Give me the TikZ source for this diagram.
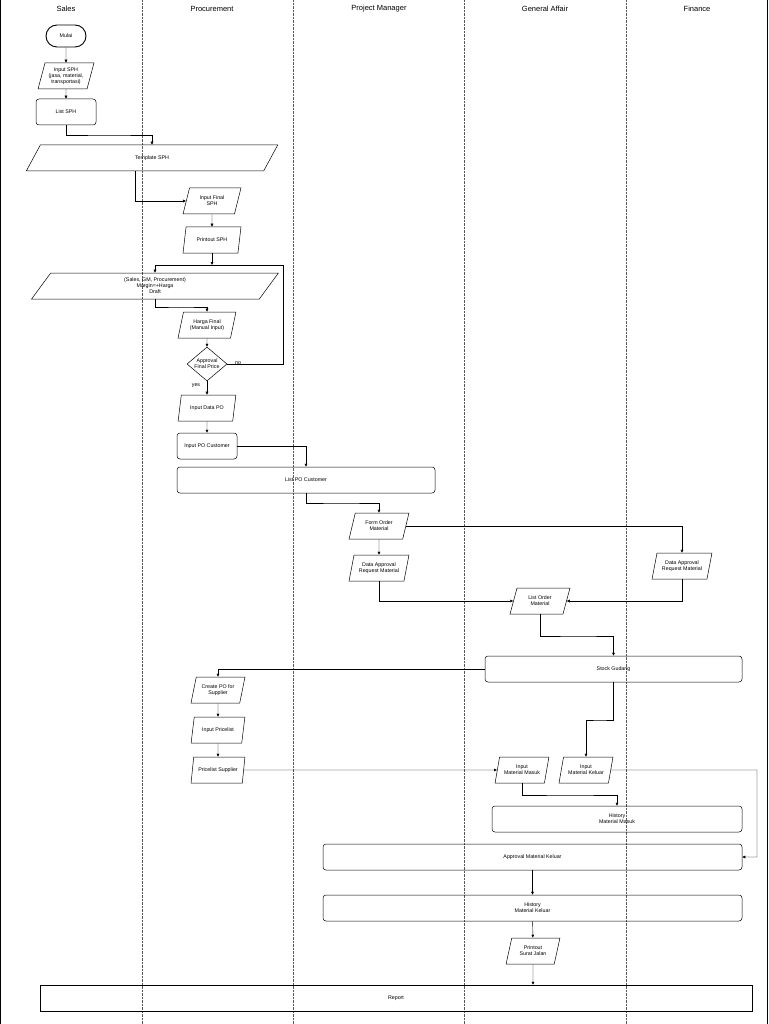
\documentclass[tikz,border=0pt]{standalone}
\usepackage{fontspec}
\setmainfont{Liberation Sans}
\usetikzlibrary{shapes.geometric,shapes.misc,arrows.meta}
\begin{document}
\begin{tikzpicture}[x=1pt,y=1pt,
 base/.style={draw,line width=0.5pt,font=\fontsize{5.3}{6}\selectfont,align=center,inner sep=1pt},
 para/.style={base,trapezium,trapezium left angle=72,trapezium right angle=108,trapezium stretches=true,minimum height=26pt},
 rbox/.style={base,rectangle,rounded corners=3pt,minimum height=26pt},
 arr/.style={-{Latex[length=3pt,width=3pt]},line width=0.45pt},
 lane/.style={densely dotted,line width=0.4pt,gray!70!black},
 title/.style={font=\fontsize{7.5}{8}\selectfont}]
\useasboundingbox (0,0) rectangle (768,-1024);
\draw[line width=1pt] (0.5,0) -- (0.5,-1024) (767.5,0)--(767.5,-1024);
\foreach \x in {142,293,464,626} \draw[lane] (\x,0) -- (\x,-1024);
\node[title] (t1) at (66,-9) {Sales};
\node[title] (t2) at (212,-9) {Procurement};
\node[title] (t3) at (379,-9) {Project Manager};
\node[title] (t4) at (545,-9) {General Affair};
\node[title] (t5) at (697,-9) {Finance};

\node[base,rounded rectangle,line width=0.9pt,minimum width=42pt,minimum height=22pt] (mulai) at (66,-36) {Mulai};
\node[para,minimum width=56pt] (isph) at (66,-76) {Input SPH\\(jasa, material,\\transportasi)};
\node[rbox,minimum width=60pt] (lsph) at (66,-112) {List SPH};
\node[para,minimum width=252pt] (tsph) at (152,-158) {Template SPH};
\node[para,minimum width=58pt] (ifs) at (212,-201) {Input Final\\SPH};
\node[para,minimum width=58pt] (psph) at (212,-240) {Printout SPH};
\node[para,minimum width=247pt] (sgm) at (155,-286) {(Sales, GM, Procurement)\\Margin=+Harga\\Draft};
\node[para,minimum width=58pt] (hf) at (207,-325) {Harga Final\\(Manual Input)};
\node[base,diamond,aspect=1.2,minimum width=40pt,minimum height=34pt,inner sep=0pt] (apf) at (207,-364) {Approval\\Final Price};
\node[para,minimum width=58pt] (idpo) at (207,-408) {Input Data PO};
\node[rbox,minimum width=60pt] (ipoc) at (207,-446) {Input PO Customer};
\node[rbox,minimum width=258pt] (lpoc) at (306,-480) {List PO Customer};
\node[para,minimum width=60pt] (fom) at (379,-526) {Form Order\\Material};
\node[para,minimum width=60pt] (darm) at (379,-568) {Data Approval\\Request Material};
\node[para,minimum width=60pt] (darf) at (682,-566) {Data Approval\\Request Material};
\node[para,minimum width=60pt] (lom) at (540,-601) {List Order\\Material};
\node[rbox,minimum width=257pt] (sg) at (613.5,-669) {Stock Gudang};
\node[para,minimum width=54pt] (cpo) at (218,-690) {Create PO for\\Supplier};
\node[para,minimum width=54pt] (ipl) at (218,-730) {Input Pricelist};
\node[para,minimum width=54pt] (pls) at (218,-770) {Pricelist Supplier};
\node[para,minimum width=54pt] (imm) at (522,-770) {Input\\Material Masuk};
\node[para,minimum width=54pt] (imk) at (586,-770) {Input\\Material Keluar};
\node[rbox,minimum width=250pt] (hmm) at (617,-819) {History\\Material Masuk};
\node[rbox,minimum width=419pt] (amk) at (532.5,-857) {Approval Material Keluar};
\node[rbox,minimum width=419pt] (hmk) at (532.5,-908) {History\\Material Keluar};
\node[para,minimum width=54pt] (pjs) at (533,-951) {Printout\\Surat Jalan};
\node[base,rectangle,minimum width=712pt,minimum height=26pt] (rep) at (396,-998) {Report};

\draw[arr] (mulai) -- (isph);
\draw[arr] (isph) -- (lsph);
\draw[arr] (lsph.south) |- (109,-135) -| (tsph.north);
\draw[arr] (135,-171) |- (ifs.west);
\draw[arr] (ifs) -- (psph);
\draw[arr] (psph.south) -- (psph.south |- 0,-265);
\draw[arr] (apf.east) -- (283,-364) -- (283,-265) -- (155,-265) -- (sgm.north -| 155,0);
\draw[arr] (155,-299) |- (181,-307) -| (hf.north);
\draw[arr] (hf) -- (apf);
\draw[arr] (apf) -- (idpo);
\node[font=\fontsize{5.3}{6}\selectfont] (no) at (238,-363) {no};
\node[font=\fontsize{5.3}{6}\selectfont] (yes) at (196,-386) {yes};
\draw[arr] (idpo) -- (ipoc);
\draw[arr] (ipoc.east) -| (lpoc.north);
\draw[arr] (lpoc.south) |- (340,-503) -| (fom.north);
\draw[arr] (fom) -- (darm);
\draw[arr] (fom.east) -| (darf.north);
\draw[arr] (darm.south) |- (lom.west);
\draw[arr] (darf.south) |- (lom.east);
\draw[arr] (lom.south) |- (580,-636) -| (sg.north);
\draw[arr] (sg.west) -| (cpo.north);
\draw[arr] (cpo) -- (ipl);
\draw[arr] (ipl) -- (pls);
\draw[arr] (pls.east) -- (imm.west);
\draw[arr] (sg.south) |- (600,-720) -| (imk.north);
\draw[arr] (imm.south) |- (570,-795) -| (hmm.north);
\draw[arr] (imk.east) -- (757,-770) |- (amk.east);
\draw[arr] (amk) -- (hmk);
\draw[arr] (hmk) -- (pjs);
\draw[arr] (pjs) -- (rep.north -| pjs);
\end{tikzpicture}
\end{document}
